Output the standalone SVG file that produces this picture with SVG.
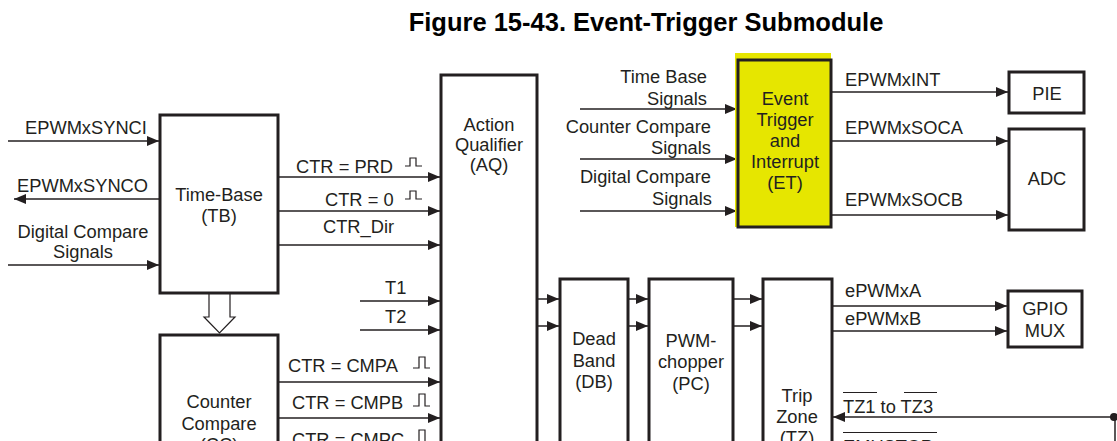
<svg xmlns="http://www.w3.org/2000/svg" width="1117" height="441" viewBox="0 0 1117 441">
<defs>
<style>
.box{fill:#fff;stroke:#231f20;stroke-width:3}
.ln{fill:none;stroke:#231f20;stroke-width:1.5}
.ar{fill:none;stroke:#231f20;stroke-width:1.5;marker-end:url(#ah)}
.t{font-family:"Liberation Sans",Arial,sans-serif;font-size:18.3px;fill:#231f20}
.c{text-anchor:middle}
.e{text-anchor:end}
.ttl{font-family:"Liberation Sans",Arial,sans-serif;font-size:25.5px;font-weight:bold;fill:#000;text-anchor:middle}
.pl{fill:none;stroke:#231f20;stroke-width:1.2}
</style>
<marker id="ah" markerUnits="userSpaceOnUse" markerWidth="12" markerHeight="10" refX="12" refY="5" orient="auto">
<path d="M0,0 L12,5 L0,10 z" fill="#231f20"/>
</marker>
</defs>
<rect width="1117" height="441" fill="#fff"/>
<text class="ttl" x="646" y="31">Figure 15-43. Event-Trigger Submodule</text>

<g id="connectors">
<line class="ar" x1="8" y1="141" x2="159" y2="141"/>
<line class="ar" x1="160" y1="199" x2="14" y2="199"/>
<line class="ar" x1="8" y1="265" x2="159" y2="265"/>
<line class="ar" x1="278" y1="177" x2="440" y2="177"/>
<line class="ar" x1="278" y1="211" x2="440" y2="211"/>
<line class="ar" x1="278" y1="245" x2="440" y2="245"/>
<line class="ar" x1="360" y1="301" x2="440" y2="301"/>
<line class="ar" x1="360" y1="330" x2="440" y2="330"/>
<line class="ar" x1="278" y1="382" x2="440" y2="382"/>
<line class="ar" x1="278" y1="418" x2="440" y2="418"/>
<line class="ar" x1="537" y1="299" x2="559" y2="299"/>
<line class="ar" x1="537" y1="326" x2="559" y2="326"/>
<line class="ar" x1="628" y1="299" x2="648" y2="299"/>
<line class="ar" x1="628" y1="326" x2="648" y2="326"/>
<line class="ar" x1="733" y1="299" x2="762" y2="299"/>
<line class="ar" x1="733" y1="326" x2="762" y2="326"/>
<line class="ar" x1="832" y1="306" x2="1007" y2="306"/>
<line class="ar" x1="832" y1="331" x2="1007" y2="331"/>
<line class="ar" x1="580" y1="109" x2="737" y2="109"/>
<line class="ar" x1="580" y1="159" x2="737" y2="159"/>
<line class="ar" x1="580" y1="211" x2="737" y2="211"/>
<line class="ar" x1="832" y1="92" x2="1008" y2="92"/>
<line class="ar" x1="832" y1="141" x2="1008" y2="141"/>
<line class="ar" x1="832" y1="215" x2="1008" y2="215"/>
<line class="ar" x1="1114" y1="417" x2="833" y2="417"/>
<circle cx="1114" cy="417" r="4" fill="#231f20"/>
<line class="ln" x1="1115" y1="417" x2="1115" y2="441"/>
<path d="M209,294 V317 H204 L219.5,333 L235,317 H230 V294" fill="#fff" stroke="#231f20" stroke-width="1.2"/>
</g>

<g id="labels">
<text class="t" x="25" y="134">EPWMxSYNCI</text>
<text class="t" x="17" y="192">EPWMxSYNCO</text>
<text class="t c" x="83" y="238">Digital Compare</text>
<text class="t c" x="83" y="258">Signals</text>
<text class="t" x="296" y="173">CTR = PRD</text>
<path class="pl" d="M405,166 H410 V158 H416 V166 H422"/>
<text class="t" x="325" y="206">CTR = 0</text>
<path class="pl" d="M405,199 H410 V191 H416 V199 H422"/>
<text class="t" x="323" y="233">CTR_Dir</text>
<text class="t" x="385" y="294">T1</text>
<text class="t" x="385" y="323">T2</text>
<text class="t" x="449" y="306">ePWMxA</text>
<text class="t" x="449" y="332">ePWMxB</text>
<text class="t" x="288" y="372">CTR = CMPA</text>
<path class="pl" d="M413,368 H419 V357 H425 V368 H430"/>
<text class="t" x="292" y="409">CTR = CMPB</text>
<path class="pl" d="M413,406 H419 V394 H425 V406 H430"/>
<text class="t" x="292" y="446">CTR = CMPC</text>
<path class="pl" d="M413,443 H419 V430 H425 V443 H430"/>
<text class="t e" x="707" y="83">Time Base</text>
<text class="t e" x="707" y="105">Signals</text>
<text class="t e" x="711" y="133">Counter Compare</text>
<text class="t e" x="711" y="154">Signals</text>
<text class="t e" x="711" y="183">Digital Compare</text>
<text class="t e" x="712" y="205">Signals</text>
<text class="t" x="845" y="86">EPWMxINT</text>
<text class="t" x="845" y="134">EPWMxSOCA</text>
<text class="t" x="845" y="206">EPWMxSOCB</text>
<text class="t" x="845" y="297">ePWMxA</text>
<text class="t" x="845" y="325">ePWMxB</text>
<text class="t" x="843" y="413">TZ1 to TZ3</text>
<line class="pl" x1="843" y1="392.5" x2="877" y2="392.5"/>
<line class="pl" x1="904" y1="392.5" x2="937" y2="392.5"/>
<text class="t" x="843" y="453">EMUSTOP</text>
<line class="pl" x1="843" y1="432.5" x2="937" y2="432.5"/>
</g>

<g id="tb">
<rect class="box" x="160" y="115" width="118" height="178"/>
<text class="t c" x="219" y="201">Time-Base</text>
<text class="t c" x="219" y="222">(TB)</text>
</g>
<g id="cc">
<rect class="box" x="160" y="335" width="118" height="130"/>
<text class="t c" x="219" y="408">Counter</text>
<text class="t c" x="219" y="430">Compare</text>
<text class="t c" x="219" y="451">(CC)</text>
</g>
<g id="aq">
<rect class="box" x="441" y="75" width="96" height="400"/>
<text class="t c" x="489" y="131">Action</text>
<text class="t c" x="489" y="151">Qualifier</text>
<text class="t c" x="489" y="171">(AQ)</text>
</g>
<g id="db">
<rect class="box" x="560" y="279" width="68" height="200"/>
<text class="t c" x="594" y="345">Dead</text>
<text class="t c" x="594" y="367">Band</text>
<text class="t c" x="594" y="388">(DB)</text>
</g>
<g id="pc">
<rect class="box" x="649" y="279" width="84" height="200"/>
<text class="t c" x="691" y="347">PWM-</text>
<text class="t c" x="691" y="368">chopper</text>
<text class="t c" x="691" y="390">(PC)</text>
</g>
<g id="tz">
<rect class="box" x="763" y="279" width="69" height="200"/>
<text class="t c" x="797" y="402">Trip</text>
<text class="t c" x="797" y="423">Zone</text>
<text class="t c" x="797" y="444">(TZ)</text>
</g>
<g id="et">
<rect x="735" y="53" width="96" height="174" fill="#e6e600"/>
<rect class="box" x="738" y="60" width="93" height="167" style="fill:#e6e600"/>
<text class="t c" x="785" y="105">Event</text>
<text class="t c" x="785" y="126">Trigger</text>
<text class="t c" x="785" y="147">and</text>
<text class="t c" x="785" y="168">Interrupt</text>
<text class="t c" x="785" y="189">(ET)</text>
</g>
<g id="pie">
<rect class="box" x="1009" y="72" width="75" height="41"/>
<text class="t c" x="1047" y="100">PIE</text>
</g>
<g id="adc">
<rect class="box" x="1009" y="129" width="75" height="101"/>
<text class="t c" x="1047" y="185">ADC</text>
</g>
<g id="gpio">
<rect class="box" x="1008" y="291" width="74" height="56"/>
<text class="t c" x="1045" y="315">GPIO</text>
<text class="t c" x="1045" y="337">MUX</text>
</g>
</svg>
